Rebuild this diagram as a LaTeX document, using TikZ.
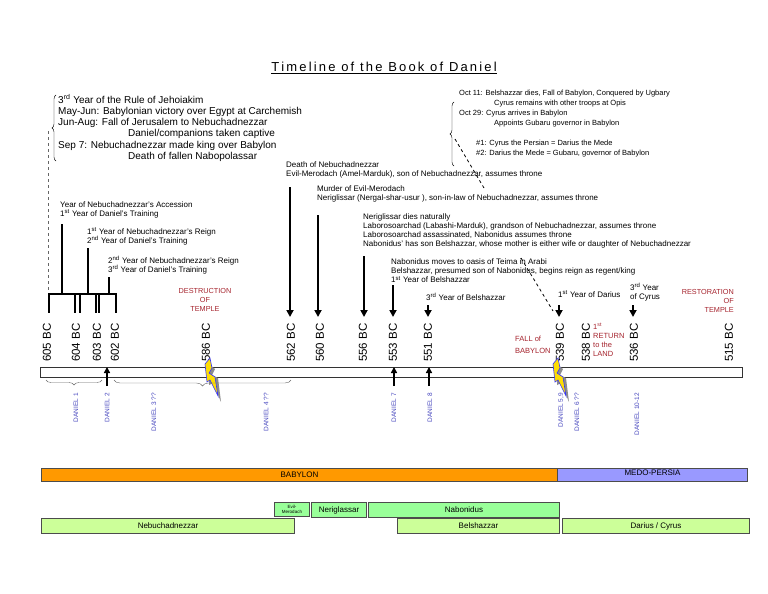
\documentclass[tikz,border=0pt]{standalone}
\usepackage{fontspec}
\setmainfont{Liberation Sans}
\usetikzlibrary{arrows.meta,decorations.pathreplacing}
\definecolor{dred}{RGB}{165,35,45}
\definecolor{dblue}{RGB}{70,70,190}
\definecolor{orng}{RGB}{255,153,0}
\definecolor{lav}{RGB}{153,153,255}
\definecolor{grn}{RGB}{153,255,153}
\definecolor{lgrn}{RGB}{204,255,153}
\begin{document}
\begin{tikzpicture}[x=1pt,y=-1pt,
  yr/.style={rotate=90,anchor=west,font=\fontsize{11.5}{12}\selectfont,inner sep=0pt},
  dan/.style={rotate=90,anchor=east,font=\fontsize{6.5}{7}\selectfont,text=dblue,inner sep=0pt},
  note/.style={anchor=west,font=\fontsize{8}{9}\selectfont,align=left,inner sep=0pt},
  big/.style={anchor=west,font=\fontsize{10}{11.3}\selectfont,align=left,inner sep=0pt},
  red/.style={font=\fontsize{7.3}{8.6}\selectfont,text=dred,inner sep=0pt},
  arr/.style={line width=2pt,-{Triangle[length=7pt,width=7pt]}},
  uarr/.style={line width=2pt,-{Triangle[length=6pt,width=6pt]}},
  brk/.style={line width=2.4pt},
  bar/.style={draw=black!70,line width=1pt,font=\fontsize{8}{9}\selectfont,inner sep=0pt,anchor=north west},
  bolt/.style={fill=yellow!80!orange,draw=blue!80,line width=0.6pt}]
\useasboundingbox (0,0) rectangle (768,594);
\node[font=\fontsize{13}{14}\selectfont] (title) at (384,68) {\underline{T\,i\,m\,e\,l\,i\,n\,e\, o\,f\, t\,h\,e\, B\,o\,o\,k\, o\,f\, D\,a\,n\,i\,e\,l}};
% timeline bar
\node[draw=black!80,line width=0.8pt,minimum width=702pt,minimum height=10pt,anchor=north west,inner sep=0pt] (tl) at (40,367) {};
% year labels
\foreach \x/\y in {47/605,76/604,97/603,115/602,206/586,291/562,320/560,363/556,393/553,428/551,560/539,586/538,634/536,729/515}
  \node[yr] (y\y) at (\x,362) {\y\ BC};
% top-left notes
\node[big] (jeh) at (58,128) {3\textsuperscript{rd} Year of the Rule of Jehoiakim\\May-Jun: Babylonian victory over Egypt at Carchemish\\Jun-Aug: Fall of Jerusalem to Nebuchadnezzar\\\hspace*{70pt}Daniel/companions taken captive\\Sep 7: Nebuchadnezzar made king over Babylon\\\hspace*{70pt}Death of fallen Nabopolassar};
\draw[decorate,decoration={brace,amplitude=4pt}] (56,161) -- (56,95);
\coordinate (dtop) at (48,131);
\coordinate (dbot) at (48,294);
\draw[dashed,black!60,line width=0.8pt] (dtop) -- (dbot);
% bracket
\draw[brk] (48,294) -- (117,294);
\foreach \x in {49,75,80,96,99,116} \draw[brk] (\x,294) -- (\x,313);
\draw[brk] (62,294) -- (62,224);
\draw[brk] (88,294) -- (88,248);
\draw[brk] (109,294) -- (109,277);
\node[note] (acc) at (60,210) {Year of Nebuchadnezzar's Accession\\1\textsuperscript{st} Year of Daniel's Training};
\node[note] (r1) at (87,236) {1\textsuperscript{st} Year of Nebuchadnezzar's Reign\\2\textsuperscript{nd} Year of Daniel's Training};
\node[note] (r2) at (108,265) {2\textsuperscript{nd} Year of Nebuchadnezzar's Reign\\3\textsuperscript{rd} Year of Daniel's Training};
\node[red,align=center] (dest) at (205,300) {DESTRUCTION\\OF\\TEMPLE};
% middle notes
\node[note] (n562) at (286,170) {Death of Nebuchadnezzar\\Evil-Merodach (Amel-Marduk), son of Nebuchadnezzar, assumes throne};
\node[note] (n560) at (317,194) {Murder of Evil-Merodach\\Neriglissar (Nergal-shar-usur ), son-in-law of Nebuchadnezzar, assumes throne};
\node[note] (n556) at (363,231) {Neriglissar dies naturally\\Laborosoarchad (Labashi-Marduk), grandson of Nebuchadnezzar, assumes throne\\Laborosoarchad assassinated, Nabonidus assumes throne\\Nabonidus' has son Belshazzar, whose mother is either wife or daughter of Nebuchadnezzar};
\node[note] (n553) at (391,271) {Nabonidus moves to oasis of Teima in Arabi\\Belshazzar, presumed son of Nabonidus, begins reign as regent/king\\1\textsuperscript{st} Year of Belshazzar};
\node[note] (n551) at (426,297) {3\textsuperscript{rd} Year of Belshazzar};
\node[note] (n539) at (558,294) {1\textsuperscript{st} Year of Darius};
\node[note] (n536) at (630,292) {3\textsuperscript{rd} Year\\of Cyrus};
\node[red,align=right,anchor=east] (rest) at (734,301) {RESTORATION\\OF\\TEMPLE};
\node[red,align=left,anchor=west,font=\fontsize{7.5}{12}\selectfont] (fall) at (515,345) {FALL of\\BABYLON};
\node[red,align=left,anchor=west,font=\fontsize{7.5}{9}\selectfont] (ret) at (593,340) {1\textsuperscript{st}\\RETURN\\to the\\LAND};
\node[note,font=\fontsize{7.5}{10}\selectfont] (oct) at (459,109) {Oct 11: Belshazzar dies, Fall of Babylon, Conquered by Ugbary\\\hspace*{35pt}Cyrus remains with other troops at Opis\\Oct 29: Cyrus arrives in Babylon\\\hspace*{35pt}Appoints Gubaru governor in Babylon};
\node[note,font=\fontsize{7.5}{10}\selectfont] (dar) at (476,149) {\#1: Cyrus the Persian = Darius the Mede\\\#2: Darius the Mede = Gubaru, governor of Babylon};
\draw[decorate,decoration={brace,amplitude=4pt}] (454,166) -- (454,102);
\draw[dashed,line width=0.8pt] (455,139) -- (484,188);
\draw[dashed,line width=0.8pt] (521,258) -- (553,311);
% down arrows
\foreach \x/\t/\n in {290/187/a562,318/215/a560,364/256/a556,393/285/a553,428/305/a551,559/305/a539,633/305/a536}{
  \coordinate (\n s) at (\x,\t); \coordinate (\n e) at (\x,317);
  \draw[arr] (\n s) -- (\n e);}
% up arrows
\foreach \x/\n in {107/u602,394/u553,429/u551}{
  \coordinate (\n s) at (\x,386); \coordinate (\n e) at (\x,367);
  \draw[uarr] (\n s) -- (\n e);}
% lightning bolts
\foreach \x in {208,556}{
  \fill[black!45] (\x+1,364) -- (\x+7,369) -- (\x+4,375) -- (\x+10,378) -- (\x+13,402) -- (\x+5,383) -- (\x+1,385) -- cycle;
  \draw[bolt] (\x-3,364) -- (\x+2,358) -- (\x+4,368) -- (\x+1,373) -- (\x+7,377) -- (\x+10,396) -- (\x+2,380) -- (\x-1,382) -- cycle;}
% lower braces
\draw[decorate,decoration={brace,amplitude=5pt},black!60] (102,380) -- (46,380);
\draw[decorate,decoration={brace,amplitude=6pt},black!60] (291,380) -- (114,380);
% daniel labels
\foreach \x/\t in {76/DANIEL 1,107/DANIEL 2,154/DANIEL 3 ??,266/DANIEL 4 ??,394/DANIEL 7,430/DANIEL 8,561/{DANIEL 5,9},577/DANIEL 6 ??,637/DANIEL 10-12}
  \node[dan] at (\x,393) {\t};
% kingdom bars
\node[bar,fill=orng,minimum width=516pt,minimum height=13pt] (bab) at (41,468) {BABYLON};
\node[bar,fill=lav,minimum width=190pt,minimum height=13pt,text depth=5pt] (med) at (557,468) {MEDO-PERSIA};
\node[bar,fill=grn,minimum width=35pt,minimum height=14pt,align=center,font=\fontsize{4.5}{5}\selectfont] (evm) at (274,502) {Evil-\\Merodach};
\node[bar,fill=grn,minimum width=55pt,minimum height=15pt] (ner) at (311,502) {Neriglassar};
\node[bar,fill=grn,minimum width=191pt,minimum height=15pt] (nab) at (368,502) {Nabonidus};
\node[bar,fill=lgrn,minimum width=253pt,minimum height=15pt] (neb) at (41,518) {Nebuchadnezzar};
\node[bar,fill=lgrn,minimum width=162pt,minimum height=15pt] (bel) at (397,518) {Belshazzar};
\node[bar,fill=lgrn,minimum width=187pt,minimum height=15pt] (dc) at (562,518) {Darius / Cyrus};
\end{tikzpicture}
\end{document}
